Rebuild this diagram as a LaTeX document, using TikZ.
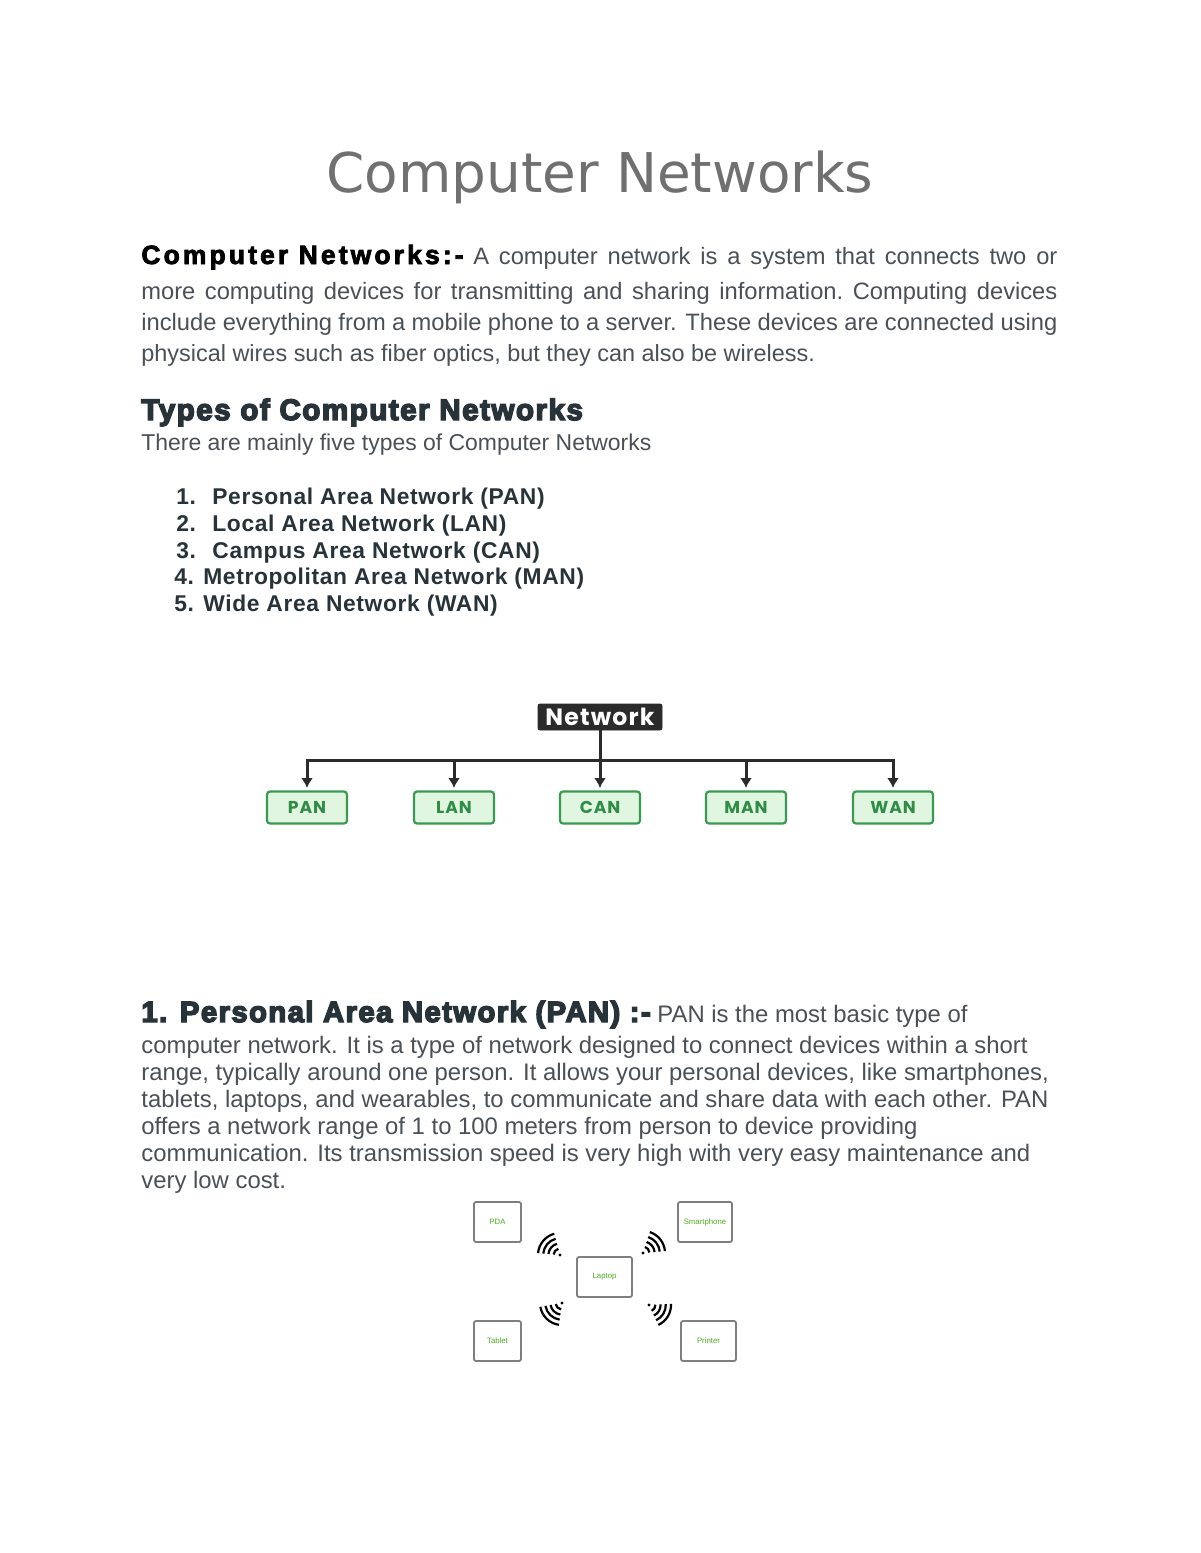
\documentclass[tikz,border=0pt]{standalone}
\usepackage{fontspec}
\usetikzlibrary{arrows.meta}
\setmainfont{Liberation Sans}
\newfontfamily\titlefont{DejaVu Sans}
\newfontfamily\boxfont{Poppins}[UprightFont=*-Bold,LetterSpace=5]
\newfontfamily\heavyfont{Liberation Sans}[UprightFont=* Bold,FakeBold=5,LetterSpace=5]
\newfontfamily\leadfont{Liberation Sans}[UprightFont=* Bold,FakeBold=3,LetterSpace=12]
\newfontfamily\listfont{Liberation Sans}[UprightFont=* Bold,LetterSpace=2.8]
\definecolor{bodygray}{HTML}{4A5056}
\definecolor{headdark}{HTML}{273239}
\definecolor{titlegray}{HTML}{707070}
\definecolor{pangreen}{HTML}{3A9A52}
\definecolor{panfill}{HTML}{E1F6E1}
\definecolor{pantext}{HTML}{2F8D46}
\definecolor{devgreen}{HTML}{4CAF20}
\definecolor{devline}{HTML}{7F7F7F}
\definecolor{netdark}{HTML}{2B2B2B}
\newcommand{\fullline}[1]{\hbox to 458pt{#1}}
\newcommand{\wifisign}[3]{
    \fill (#1) circle (0.8pt);
    \draw[wifiarc] (#1) ++(#2:3.2pt) arc[start angle=#2, end angle=#3, radius=3.2pt];
    \draw[wifiarc] (#1) ++(#2:5.8pt) arc[start angle=#2, end angle=#3, radius=5.8pt];
    \draw[wifiarc] (#1) ++(#2:8.4pt) arc[start angle=#2, end angle=#3, radius=8.4pt];
    \draw[wifiarc] (#1) ++(#2:11pt) arc[start angle=#2, end angle=#3, radius=11pt];
}
\tikzset{
    textline/.style={anchor=base west, inner sep=0pt, font=\fontsize{11.85pt}{14pt}\selectfont, text=bodygray},
    panline/.style={textline, font=\fontsize{11.94pt}{14pt}\selectfont},
    listline/.style={anchor=base west, inner sep=0pt, font=\fontsize{11.4pt}{14pt}\listfont, text=headdark},
    netbox/.style={draw=netdark, fill=netdark, rounded corners=1pt, inner sep=0pt, minimum width=62pt, minimum height=13pt, text=white, font=\fontsize{11.8pt}{12pt}\boxfont},
    panbox/.style={draw=pangreen, fill=panfill, line width=1.1pt, rounded corners=1.5pt, inner sep=0pt, minimum width=40pt, minimum height=16pt, text=pantext, font=\fontsize{8.6pt}{9pt}\boxfont},
    devbox/.style={draw=devline, fill=white, line width=0.9pt, rounded corners=1pt, inner sep=0pt, minimum height=20pt, text=devgreen, font=\fontsize{3.9pt}{5pt}\selectfont},
    treeline/.style={draw=netdark, line width=1.5pt},
    treearrow/.style={treeline, -{Latex[length=5pt,width=6pt]}, shorten >=1.2pt},
    wifiarc/.style={draw=black, line width=1.1pt}
}
\begin{document}
\begin{tikzpicture}[x=0.5pt, y=-0.5pt]
    \useasboundingbox (0,0) rectangle (1200,1553);

    % title
    \node (title) at (600,192) [anchor=base, inner sep=0pt, text=titlegray, font=\fontsize{27.4pt}{32pt}\titlefont] {Computer Networks};

    % intro
    \node (intro1) at (141,264) [textline] {\fullline{{\fontsize{13.2pt}{14pt}\leadfont\color{black}Computer Networks:-}\hspace{1.5pt} A\hfill computer\hfill network\hfill is\hfill a\hfill system\hfill that\hfill connects\hfill two\hfill or}};
    \node (intro2) at (141,299) [textline] {\fullline{more\hfill computing\hfill devices\hfill for\hfill transmitting\hfill and\hfill sharing\hfill information.\hfill Computing\hfill devices}};
    \node (intro3) at (141,330) [textline] {\fullline{include everything from a mobile phone to a server. These devices are connected using}};
    \node (intro4) at (141,361) [textline, font=\fontsize{11.72pt}{14pt}\selectfont] {physical wires such as fiber optics, but they can also be wireless.};

    % types
    \node (types) at (141,420) [textline, text=headdark, font=\fontsize{14.8pt}{16pt}\heavyfont] {Types of Computer Networks};
    \node (there) at (141,450) [textline, font=\fontsize{11.47pt}{14pt}\selectfont] {There are mainly five types of Computer Networks};

    \node (num1) at (176,504) [listline] {1.};
    \node (item1) at (212,504) [listline] {Personal Area Network (PAN)};
    \node (num2) at (176,531) [listline] {2.};
    \node (item2) at (212,531) [listline] {Local Area Network (LAN)};
    \node (num3) at (176,558) [listline] {3.};
    \node (item3) at (212,558) [listline] {Campus Area Network (CAN)};
    \node (item4) at (174,584) [listline] {4. Metropolitan Area Network (MAN)};
    \node (item5) at (174,611) [listline] {5. Wide Area Network (WAN)};

    % tree
    \node (net) at (600,717) [netbox] {Network};
    \node (pan) at (307,807.5) [panbox] {PAN};
    \node (lan) at (454,807.5) [panbox] {LAN};
    \node (can) at (600,807.5) [panbox] {CAN};
    \node (man) at (746,807.5) [panbox] {MAN};
    \node (wan) at (893,807.5) [panbox] {WAN};
    \coordinate (bus) at (600,760);

    \draw[treeline] (net) -- (bus);
    \draw[treearrow] (bus) -| (pan);
    \draw[treearrow] (bus) -| (lan);
    \draw[treearrow] (bus) -- (can);
    \draw[treearrow] (bus) -| (man);
    \draw[treearrow] (bus) -| (wan);

    % pan section
    \node (pan1) at (141,1022) [panline] {{\fontsize{14.6pt}{16pt}\heavyfont\color{headdark}1. Personal Area Network (PAN) :-} PAN is the most basic type of};
    \node (pan2) at (141,1053) [panline] {computer network. It is a type of network designed to connect devices within a short};
    \node (pan3) at (141,1080) [panline] {range, typically around one person. It allows your personal devices, like smartphones,};
    \node (pan4) at (141,1107) [panline] {tablets, laptops, and wearables, to communicate and share data with each other. PAN};
    \node (pan5) at (141,1134) [panline] {offers a network range of 1 to 100 meters from person to device providing};
    \node (pan6) at (141,1161) [panline] {communication. Its transmission speed is very high with very easy maintenance and};
    \node (pan7) at (141,1188) [panline] {very low cost.};

    % devices
    \node (pda) at (497.5,1222) [devbox, minimum width=23.5pt] {PDA};
    \node (phone) at (705,1222) [devbox, minimum width=27pt] {Smartphone};
    \node (laptop) at (604.5,1277) [devbox, minimum width=27.5pt] {Laptop};
    \node (tablet) at (497.5,1341) [devbox, minimum width=23.5pt] {Tablet};
    \node (printer) at (708.5,1341) [devbox, minimum width=27.5pt] {Printer};

    \coordinate (sigpda) at (560,1255);
    \coordinate (sigphone) at (643,1253);
    \coordinate (sigtablet) at (562,1303);
    \coordinate (sigprinter) at (649,1305);
    \wifisign{sigpda}{105}{175}
    \wifisign{sigphone}{5}{72}
    \wifisign{sigtablet}{190}{262}
    \wifisign{sigprinter}{-65}{3}
\end{tikzpicture}
\end{document}
